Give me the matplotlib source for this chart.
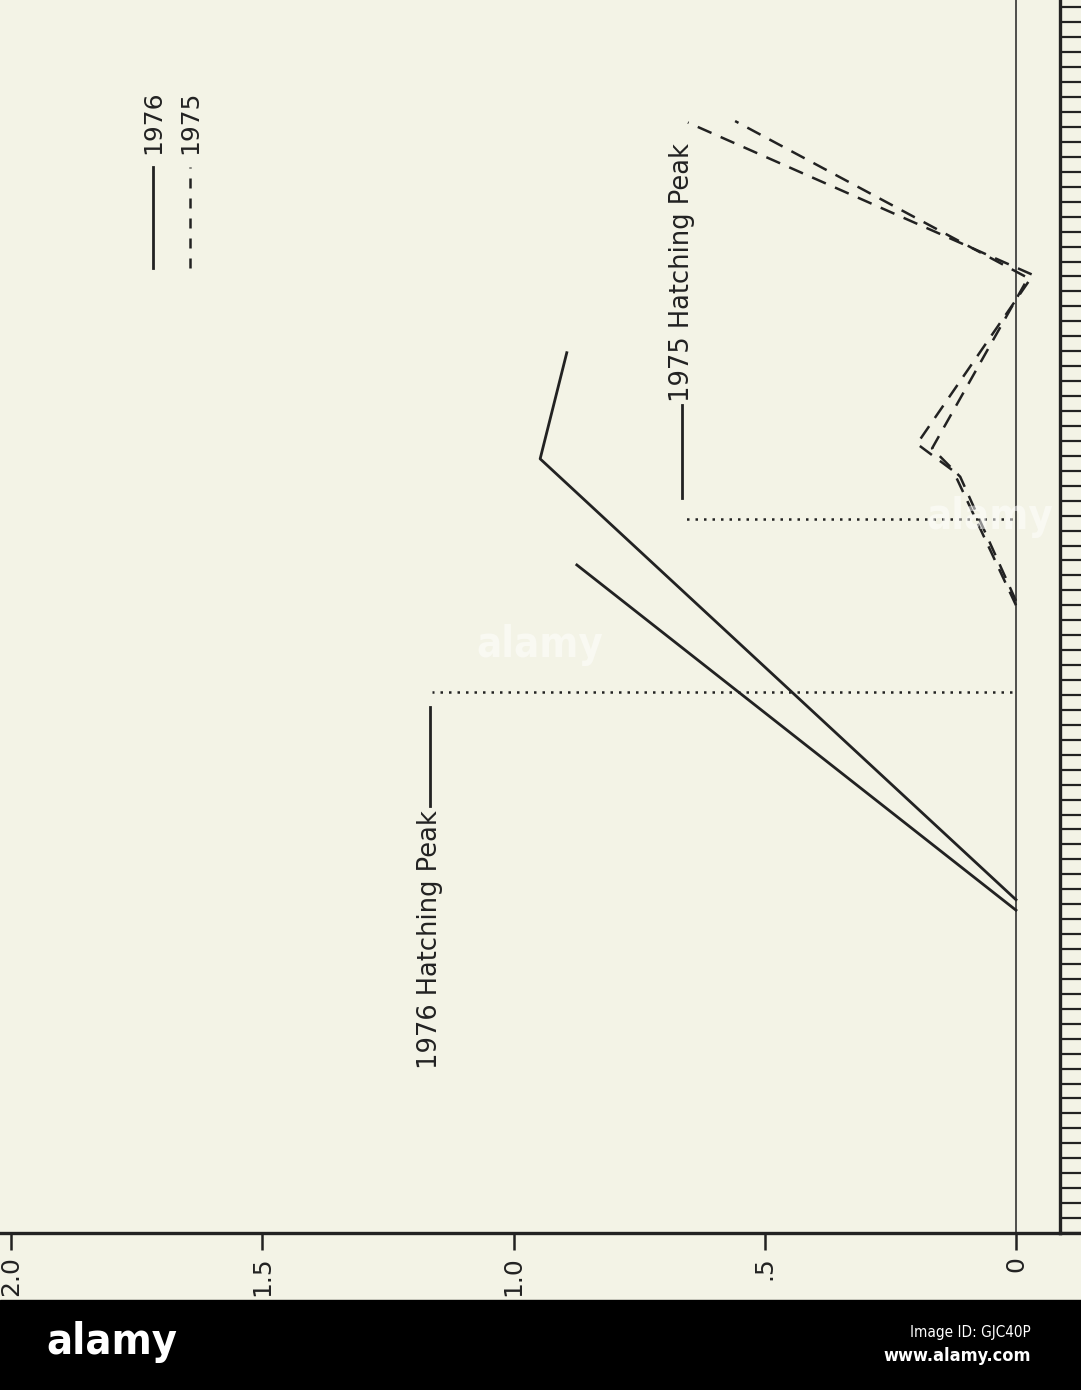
import matplotlib
matplotlib.use('Agg')
import matplotlib.pyplot as plt
from matplotlib.lines import Line2D
from matplotlib.patches import Rectangle

BG = '#f3f3e6'
INK = '#222222'

# time axis: one tick per day, values along the bottom axis
n_days = 82
value_ticks = [0, 0.5, 1.0, 1.5, 2.0]
value_labels = ['0', '.5', '1.0', '1.5', '2.0']

# 1976 (solid)
a_days = [22.3, 51.8, 58.9]
a_vals = [0.0, 0.947, 0.894]
b_days = [21.6, 44.7]
b_vals = [0.0, 0.874]

# 1975 (dashed)
c_days = [42.0, 51.0, 52.8, 64.1, 74.3]
c_vals = [0.0, 0.125, 0.197, -0.034, 0.653]
d_days = [42.3, 50.6, 52.5, 63.9, 74.4]
d_vals = [0.0, 0.111, 0.167, -0.024, 0.559]

# hatching peaks
peak_1976 = (36.2, 1.163)
peak_1975 = (47.8, 0.665)

fig = plt.figure(figsize=(10.81, 13.90), dpi=100, facecolor=BG)
ax = fig.add_axes([0, 157 / 1390, 1060 / 1081, 1233 / 1390])
ax.set_facecolor(BG)
ax.set_xlim(2.022, -0.0876)
ax.set_ylim(0, 82.5)

for s in ['left', 'top']:
    ax.spines[s].set_visible(False)
for s in ['bottom', 'right']:
    ax.spines[s].set_linewidth(2.4)
    ax.spines[s].set_color(INK)

ax.yaxis.tick_right()
ax.set_yticks(range(0, n_days + 1))
ax.tick_params(axis='y', direction='out', length=16, width=1.6, colors=INK,
               labelright=False)
ax.set_xticks(value_ticks)
ax.set_xticklabels(value_labels, rotation=90)
ax.tick_params(axis='x', direction='out', length=12, width=1.8, pad=5,
               labelsize=18, colors=INK)

# zero line
ax.axvline(0, color=INK, lw=1.1)

ax.plot(a_vals, a_days, color=INK, lw=2.0)
ax.plot(b_vals, b_days, color=INK, lw=2.0)
ax.plot(c_vals, c_days, color=INK, lw=1.8, dashes=(6, 4))
ax.plot(d_vals, d_days, color=INK, lw=1.8, dashes=(6, 4))

# hatching peak markers
for day, val in [peak_1976, peak_1975]:
    ax.plot([0.008, val], [day, day], color=INK, lw=1.8, linestyle=(0, (1, 2.4)))

ax.plot([1.166, 1.166], [28.6, 35.2], color=INK, lw=2.0)
ax.text(1.166, 28.3, '1976 Hatching Peak', rotation=90, ha='center', va='top',
        fontsize=18.5, color=INK)
ax.plot([0.665, 0.665], [49.2, 55.4], color=INK, lw=2.0)
ax.text(0.665, 55.6, '1975 Hatching Peak', rotation=90, ha='center', va='bottom',
        fontsize=18.5, color=INK)

# legend
ax.plot([1.717, 1.717], [64.6, 71.3], color=INK, lw=2.0)
ax.text(1.717, 72.2, '1976', rotation=90, ha='center', va='bottom', fontsize=18, color=INK)
ax.plot([1.644, 1.644], [64.6, 71.3], color=INK, lw=1.8, dashes=(4, 4))
ax.text(1.644, 72.2, '1975', rotation=90, ha='center', va='bottom', fontsize=18, color=INK)

# bottom axis runs on past the time axis
fig.add_artist(Line2D([1060 / 1081, 1], [157 / 1390] * 2, color=INK, lw=2.4))

# faint watermark
for x, y in [(540, 645), (990, 517)]:
    fig.text(x / 1081, 1 - y / 1390, 'alamy', color='white', alpha=0.5,
             fontsize=30, fontweight='bold', fontstretch='condensed',
             ha='center', va='center')

# footer band
fig.add_artist(Rectangle((0, 0), 1, 90 / 1390, transform=fig.transFigure,
                         color='black', zorder=5))
fig.text(46 / 1081, 1 - 1342 / 1390, 'alamy', color='white', fontsize=31,
         fontweight='bold', fontstretch='condensed', ha='left', va='center', zorder=6)
fig.text(1031 / 1081, 1 - 1333 / 1390, 'Image ID: GJC40P', color='white',
         fontsize=11, fontstretch='condensed', ha='right', va='center', zorder=6)
fig.text(1031 / 1081, 1 - 1356 / 1390, 'www.alamy.com', color='white',
         fontsize=13, fontweight='bold', fontstretch='condensed',
         ha='right', va='center', zorder=6)

fig.savefig('out.png', dpi=100, facecolor=BG)
